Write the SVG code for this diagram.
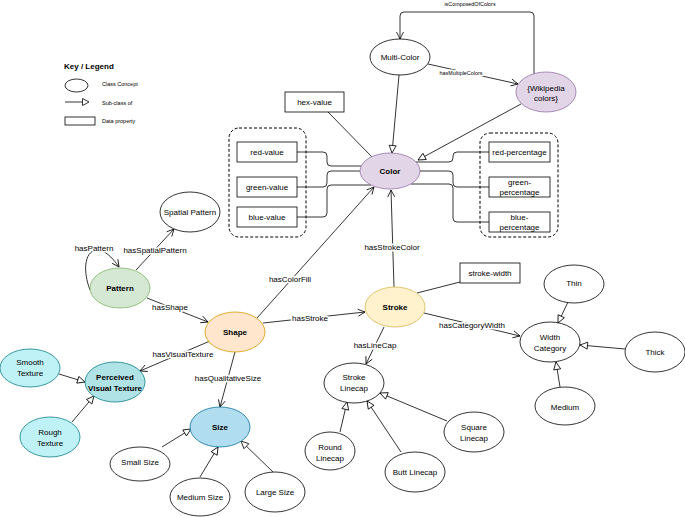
<svg xmlns="http://www.w3.org/2000/svg" width="685" height="517" viewBox="0 0 685 517">
<style>
text{font-family:"Liberation Sans",Arial,sans-serif;font-size:8px;text-anchor:middle;fill:#000}
.b{font-weight:bold}
.s{font-size:5.4px}
.lg{font-size:5.5px;text-anchor:start}
.n{fill:#fff;stroke:#000;stroke-width:0.8}
.e{fill:none;stroke:#000;stroke-width:0.8}
.l{stroke:#fff;stroke-width:3;paint-order:stroke;stroke-linejoin:round}
.d{fill:none;stroke:#000;stroke-width:1;stroke-dasharray:3 2}
.purple{fill:#e1d5e7;stroke:#9673a6}
.green{fill:#d5e8d4;stroke:#82b366}
.orange{fill:#ffe6cc;stroke:#d79b00}
.yellow{fill:#fff2cc;stroke:#d6b656}
.cyan{fill:#bff2f6;stroke:#0e8088}
.teal{fill:#b0e3e6;stroke:#0e8088}
.blue{fill:#b1ddf0;stroke:#10739e}
</style>
<defs>
<marker id="open" viewBox="-1 -1 10 10" markerWidth="10" markerHeight="10" refX="7" refY="3.5" orient="auto" markerUnits="userSpaceOnUse">
<path d="M0,0 L7,3.5 L0,7" fill="none" stroke="#000" stroke-width="0.8"/>
</marker>
<marker id="tri" viewBox="-1 -1 10 10" markerWidth="10" markerHeight="10" refX="7.5" refY="3.5" orient="auto" markerUnits="userSpaceOnUse">
<path d="M0,0 L7.5,3.5 L0,7 Z" fill="#fff" stroke="#000" stroke-width="0.8"/>
</marker>
</defs>
<rect width="685" height="517" fill="#fff"/>

<g id="connectors">
<path class="e" d="M534,74 V16 Q534,12 530,12 H404 Q400,12 400,16 V39" marker-end="url(#open)"/>
<path class="e" d="M428,64 L518,84" marker-end="url(#open)"/>
<path class="e" d="M399,75 L392,153" marker-end="url(#tri)"/>
<path class="e" d="M521,104 L418,160" marker-end="url(#tri)"/>
<path class="e" d="M328,112 L372,157"/>
<path class="e" d="M297,152 H323 Q327,152 327,156 V162 Q327,166 331,166 H361"/>
<path class="e" d="M297,187 H323 Q327,187 327,183 V175 Q327,171 331,171 H360"/>
<path class="e" d="M297,217 H323 Q327,217 327,213 V189 Q327,185 331,185 H371"/>
<path class="e" d="M416,162 H449 Q453,162 453,158 V156 Q453,152 457,152 H489"/>
<path class="e" d="M420,171 H449 Q453,171 453,175 V183 Q453,187 457,187 H489"/>
<path class="e" d="M411,184 H449 Q453,184 453,188 V218 Q453,222 457,222 H489"/>
<path class="e" d="M90,290 C83,272 84,252 96,250 C104,249 112,257 119,267" marker-end="url(#open)"/>
<path class="e" d="M136,270 L174,229" marker-end="url(#open)"/>
<path class="e" d="M147,298 L208,322" marker-end="url(#open)"/>
<path class="e" d="M257,318 L374,187" marker-end="url(#open)"/>
<path class="e" d="M263,323 L365,312" marker-end="url(#open)"/>
<path class="e" d="M394,287 L391,190" marker-end="url(#open)"/>
<path class="e" d="M417,293 L460,282"/>
<path class="e" d="M424,313 L520,336" marker-end="url(#open)"/>
<path class="e" d="M384,327 L366,364" marker-end="url(#open)"/>
<path class="e" d="M210,341 L140,371" marker-end="url(#open)"/>
<path class="e" d="M235,352 L220,407" marker-end="url(#open)"/>
<path class="e" d="M568,302 L558,323" marker-end="url(#tri)"/>
<path class="e" d="M625,349 L580,345" marker-end="url(#tri)"/>
<path class="e" d="M560,387 L556,362" marker-end="url(#tri)"/>
<path class="e" d="M340,432 L347,402" marker-end="url(#tri)"/>
<path class="e" d="M401,452 L367,401" marker-end="url(#tri)"/>
<path class="e" d="M447,421 L380,393" marker-end="url(#tri)"/>
<path class="e" d="M59,374 L85,382" marker-end="url(#tri)"/>
<path class="e" d="M72,422 L94,396" marker-end="url(#tri)"/>
<path class="e" d="M162,447 L191,429" marker-end="url(#tri)"/>
<path class="e" d="M200,477 L218,447" marker-end="url(#tri)"/>
<path class="e" d="M273,472 L241,441" marker-end="url(#tri)"/>
<text class="s" x="470" y="6">isComposedOfColors</text>
<text class="s l" x="461" y="75">hasMultipleColors</text>
<text class="l" x="94" y="251">hasPattern</text>
<text class="l" x="155" y="253">hasSpatialPattern</text>
<text class="l" x="170" y="310">hasShape</text>
<text class="l" x="290" y="282">hasColorFill</text>
<text class="l" x="310" y="321">hasStroke</text>
<text class="l" x="183" y="357">hasVisualTexture</text>
<text class="l" x="228" y="381">hasQualitativeSize</text>
<text class="l" x="392" y="250">hasStrokeColor</text>
<text class="l" x="375" y="348">hasLineCap</text>
<text class="l" x="472" y="328">hasCategoryWidth</text>
</g>

<g id="legend">
<text class="b" x="64" y="69" style="text-anchor:start">Key / Legend</text>
<ellipse class="n" cx="76.5" cy="85.5" rx="11.5" ry="6.5"/>
<text class="lg" x="102" y="86">Class Concept</text>
<path class="e" d="M65,102 H82.5"/>
<path d="M82.5,98.5 L89,102 L82.5,105.5 Z" fill="#fff" stroke="#000" stroke-width="0.8"/>
<text class="lg" x="102" y="105">Sub-class of</text>
<rect class="n" x="65" y="117" width="30" height="8"/>
<text class="lg" x="102" y="123">Data property</text>
</g>

<g id="multi-color"><ellipse class="n" cx="400" cy="57" rx="30" ry="18"/><text x="400" y="60">Multi-Color</text></g>
<g id="wikipedia-colors"><ellipse class="n purple" cx="546" cy="92" rx="30" ry="20"/><text x="546" y="91">{Wikipedia</text><text x="546" y="100.5">colors}</text></g>
<g id="color"><ellipse class="n purple" cx="390" cy="171" rx="30" ry="18"/><text class="b" x="390" y="174">Color</text></g>
<g id="hex-value"><rect class="n" x="285" y="92" width="59" height="20"/><text x="314.5" y="105">hex-value</text></g>
<g id="rgb-values">
<rect class="d" x="229" y="128" width="77" height="109" rx="10"/>
<g id="red-value"><rect class="n" x="237" y="142" width="60" height="20"/><text x="267" y="155">red-value</text></g>
<g id="green-value"><rect class="n" x="237" y="177" width="60" height="20"/><text x="267" y="190">green-value</text></g>
<g id="blue-value"><rect class="n" x="237" y="207" width="60" height="20"/><text x="267" y="220">blue-value</text></g>
</g>
<g id="rgb-percentages">
<rect class="d" x="480" y="133" width="78" height="104" rx="10"/>
<g id="red-percentage"><rect class="n" x="489" y="142" width="61" height="20"/><text x="519.5" y="155">red-percentage</text></g>
<g id="green-percentage"><rect class="n" x="489" y="177" width="61" height="20"/><text x="519.5" y="185">green-</text><text x="519.5" y="195">percentage</text></g>
<g id="blue-percentage"><rect class="n" x="489" y="212" width="61" height="20"/><text x="519.5" y="220">blue-</text><text x="519.5" y="230">percentage</text></g>
</g>
<g id="spatial-pattern"><ellipse class="n" cx="190" cy="212" rx="30" ry="20"/><text x="190" y="215">Spatial Pattern</text></g>
<g id="pattern"><ellipse class="n green" cx="120" cy="288" rx="30" ry="20"/><text class="b" x="120" y="291">Pattern</text></g>
<g id="shape"><ellipse class="n orange" cx="235" cy="332" rx="30" ry="20"/><text class="b" x="235" y="335">Shape</text></g>
<g id="stroke"><ellipse class="n yellow" cx="395" cy="307" rx="30" ry="20"/><text class="b" x="395" y="310">Stroke</text></g>
<g id="stroke-width"><rect class="n" x="460" y="263" width="60" height="20"/><text x="490" y="276">stroke-width</text></g>
<g id="width-category"><ellipse class="n" cx="550" cy="342" rx="30" ry="20"/><text x="550" y="340">Width</text><text x="550" y="351">Category</text></g>
<g id="thin"><ellipse class="n" cx="574" cy="284" rx="30" ry="19"/><text x="574" y="286">Thin</text></g>
<g id="thick"><ellipse class="n" cx="655" cy="352" rx="30" ry="20"/><text x="655" y="355">Thick</text></g>
<g id="medium"><ellipse class="n" cx="565" cy="406" rx="30" ry="19"/><text x="565" y="409.5">Medium</text></g>
<g id="stroke-linecap"><ellipse class="n" cx="354" cy="383" rx="30" ry="20"/><text x="354" y="380">Stroke</text><text x="354" y="391">Linecap</text></g>
<g id="round-linecap"><ellipse class="n" cx="330" cy="451" rx="25" ry="19"/><text x="330" y="450">Round</text><text x="330" y="461">Linecap</text></g>
<g id="butt-linecap"><ellipse class="n" cx="415" cy="472" rx="30" ry="20"/><text x="415" y="475">Butt Linecap</text></g>
<g id="square-linecap"><ellipse class="n" cx="474" cy="432" rx="30" ry="20"/><text x="474" y="430">Square</text><text x="474" y="441">Linecap</text></g>
<g id="perceived-visual-texture"><ellipse class="n teal" cx="115" cy="382" rx="30" ry="20"/><text class="b" x="115" y="380">Perceived</text><text class="b" x="115" y="390.5">Visual Texture</text></g>
<g id="smooth-texture"><ellipse class="n cyan" cx="30" cy="368" rx="30" ry="19"/><text x="30" y="365">Smooth</text><text x="30" y="376">Texture</text></g>
<g id="rough-texture"><ellipse class="n cyan" cx="50" cy="437" rx="30" ry="20"/><text x="50" y="435">Rough</text><text x="50" y="446">Texture</text></g>
<g id="size"><ellipse class="n blue" cx="220" cy="427" rx="30" ry="20"/><text class="b" x="220" y="430">Size</text></g>
<g id="small-size"><ellipse class="n" cx="140" cy="464" rx="30" ry="17"/><text x="140" y="465">Small Size</text></g>
<g id="medium-size"><ellipse class="n" cx="200" cy="497" rx="30" ry="19"/><text x="200" y="500">Medium Size</text></g>
<g id="large-size"><ellipse class="n" cx="275" cy="492" rx="30" ry="20"/><text x="275" y="495">Large Size</text></g>
</svg>
